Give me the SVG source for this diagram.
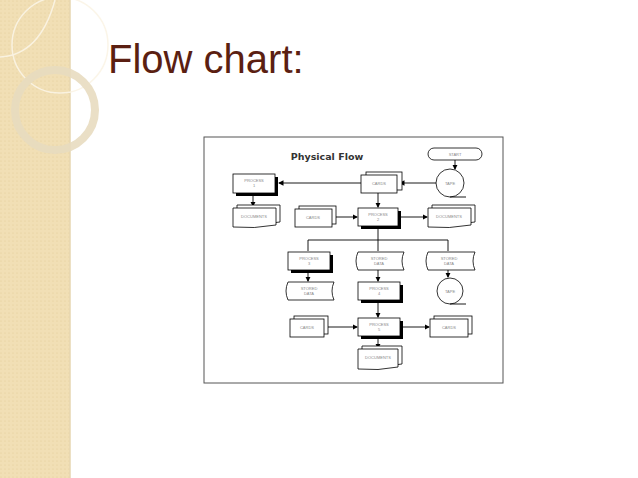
<svg xmlns="http://www.w3.org/2000/svg" width="638" height="478" viewBox="0 0 638 478">
<defs>
<marker id="ar" markerWidth="6" markerHeight="6" refX="5" refY="3" orient="auto"><path d="M0,0 L6,3 L0,6 z" fill="#000"/></marker>
<pattern id="dots" width="4" height="4" patternUnits="userSpaceOnUse"><rect width="4" height="4" fill="#f1dfb5"/><circle cx="1" cy="1" r="0.6" fill="#e3cc98"/></pattern>
</defs>
<style>
.b{fill:#fff;stroke:#000;stroke-width:0.8}
.sh{fill:#000}
.t{font-family:"Liberation Sans",Arial,sans-serif;font-size:4px;fill:#888;text-anchor:middle}
.c{stroke:#000;stroke-width:0.9;fill:none}
</style>
<rect width="638" height="478" fill="#fff"/>
<rect x="0" y="0" width="70" height="478" fill="url(#dots)"/>
<line x1="70" y1="0" x2="70" y2="478" stroke="#e6d6b0" stroke-width="1.5"/>
<g fill="none" stroke="#fbf5e6" stroke-width="1.5" opacity="0.9">
<circle cx="60" cy="45" r="48"/>
<circle cx="55" cy="110" r="40" stroke="#e8dcc0" stroke-width="8"/>
<path d="M0,57 Q40,55 55,0" />
</g>
<text x="108" y="73" font-family="Liberation Sans,Arial,sans-serif" font-size="40" fill="#5b1f12">Flow chart:</text>
<rect x="204" y="137" width="299" height="246" fill="#fff" stroke="#555" stroke-width="1"/>
<text x="327" y="160" font-family="DejaVu Sans,sans-serif" font-weight="bold" font-size="9.5" fill="#333" text-anchor="middle">Physical Flow</text>
<g id="connectors">
<line class="c" x1="455" y1="160" x2="455" y2="169" marker-end="url(#ar)"/>
<line class="c" x1="436" y1="183" x2="400" y2="183" marker-end="url(#ar)"/>
<line class="c" x1="361" y1="183" x2="279" y2="183" marker-end="url(#ar)"/>
<line class="c" x1="253" y1="193" x2="253" y2="206" marker-end="url(#ar)"/>
<line class="c" x1="378" y1="192" x2="378" y2="207" marker-end="url(#ar)"/>
<line class="c" x1="336" y1="217" x2="357" y2="217" marker-end="url(#ar)"/>
<line class="c" x1="401" y1="217" x2="427" y2="217" marker-end="url(#ar)"/>
<path class="c" d="M378,226 V251 M308,251 V240 H448 V251"/>
<line class="c" x1="308" y1="270" x2="308" y2="281" marker-end="url(#ar)"/>
<line class="c" x1="378" y1="270" x2="378" y2="281" marker-end="url(#ar)"/>
<line class="c" x1="448" y1="270" x2="448" y2="277" marker-end="url(#ar)"/>
<line class="c" x1="378" y1="301" x2="378" y2="317" marker-end="url(#ar)"/>
<line class="c" x1="328" y1="327" x2="357" y2="327" marker-end="url(#ar)"/>
<line class="c" x1="403" y1="327" x2="429" y2="327" marker-end="url(#ar)"/>
<line class="c" x1="378" y1="338" x2="378" y2="348" marker-end="url(#ar)"/>
</g>
<g id="start"><rect class="b" x="428" y="148" width="54" height="12" rx="6"/><text class="t" x="455" y="155.5">START</text></g>
<g id="tape1"><circle class="b" cx="450" cy="183" r="14"/><line class="c" x1="450" y1="197" x2="466" y2="197"/><text class="t" x="450" y="185">TAPE</text></g>
<g id="cards1"><rect class="b" x="366" y="172" width="36" height="18"/><rect class="b" x="361" y="175" width="36" height="18"/><text class="t" x="379" y="185">CARDS</text></g>
<g id="process1"><rect class="sh" x="236" y="177" width="42" height="19"/><rect class="b" x="233" y="174" width="42" height="19"/><text class="t" x="254" y="182">PROCESS</text><text class="t" x="254" y="187">1</text></g>
<g id="docs1"><path class="b" d="M237,205 H280 V222 Q258,226 237,224 Z"/><path class="b" d="M233,208 H276 V225 Q254,229 233,227 Z"/><text class="t" x="254" y="218">DOCUMENTS</text></g>
<g id="cards2"><rect class="b" x="299" y="206" width="37" height="18"/><rect class="b" x="295" y="209" width="37" height="18"/><text class="t" x="313" y="219">CARDS</text></g>
<g id="process2"><rect class="sh" x="361" y="211" width="40" height="18"/><rect class="b" x="358" y="208" width="40" height="18"/><text class="t" x="378" y="216">PROCESS</text><text class="t" x="378" y="221">2</text></g>
<g id="docs2"><path class="b" d="M432,205 H475 V222 Q453,226 432,224 Z"/><path class="b" d="M428,208 H471 V225 Q449,229 428,227 Z"/><text class="t" x="449" y="218">DOCUMENTS</text></g>
<g id="process3"><rect class="sh" x="291" y="255" width="42" height="18"/><rect class="b" x="288" y="252" width="42" height="18"/><text class="t" x="309" y="260">PROCESS</text><text class="t" x="309" y="265">3</text></g>
<g id="stored1"><path class="b" d="M358,252 H404 Q400,261 404,270 H358 Q354,261 358,252 Z"/><text class="t" x="379" y="260">STORED</text><text class="t" x="379" y="265">DATA</text></g>
<g id="stored2"><path class="b" d="M428,252 H475 Q471,261 475,270 H428 Q424,261 428,252 Z"/><text class="t" x="449" y="260">STORED</text><text class="t" x="449" y="265">DATA</text></g>
<g id="stored3"><path class="b" d="M288,282 H334 Q330,291 334,300 H288 Q284,291 288,282 Z"/><text class="t" x="309" y="290">STORED</text><text class="t" x="309" y="295">DATA</text></g>
<g id="process4"><rect class="sh" x="361" y="285" width="42" height="18"/><rect class="b" x="358" y="282" width="42" height="18"/><text class="t" x="379" y="290">PROCESS</text><text class="t" x="379" y="295">4</text></g>
<g id="tape2"><circle class="b" cx="450" cy="291" r="13"/><line class="c" x1="450" y1="304" x2="466" y2="304"/><text class="t" x="450" y="293">TAPE</text></g>
<g id="cards3"><rect class="b" x="294" y="316" width="34" height="18"/><rect class="b" x="290" y="319" width="34" height="18"/><text class="t" x="307" y="329">CARDS</text></g>
<g id="process5"><rect class="sh" x="361" y="321" width="42" height="18"/><rect class="b" x="358" y="318" width="42" height="18"/><text class="t" x="379" y="326">PROCESS</text><text class="t" x="379" y="331">5</text></g>
<g id="cards4"><rect class="b" x="434" y="316" width="38" height="18"/><rect class="b" x="430" y="319" width="38" height="18"/><text class="t" x="449" y="329">CARDS</text></g>
<g id="docs3"><path class="b" d="M362,346 H402 V364 Q382,368 362,366 Z"/><path class="b" d="M358,349 H398 V367 Q378,371 358,369 Z"/><text class="t" x="378" y="359">DOCUMENTS</text></g>
</svg>
